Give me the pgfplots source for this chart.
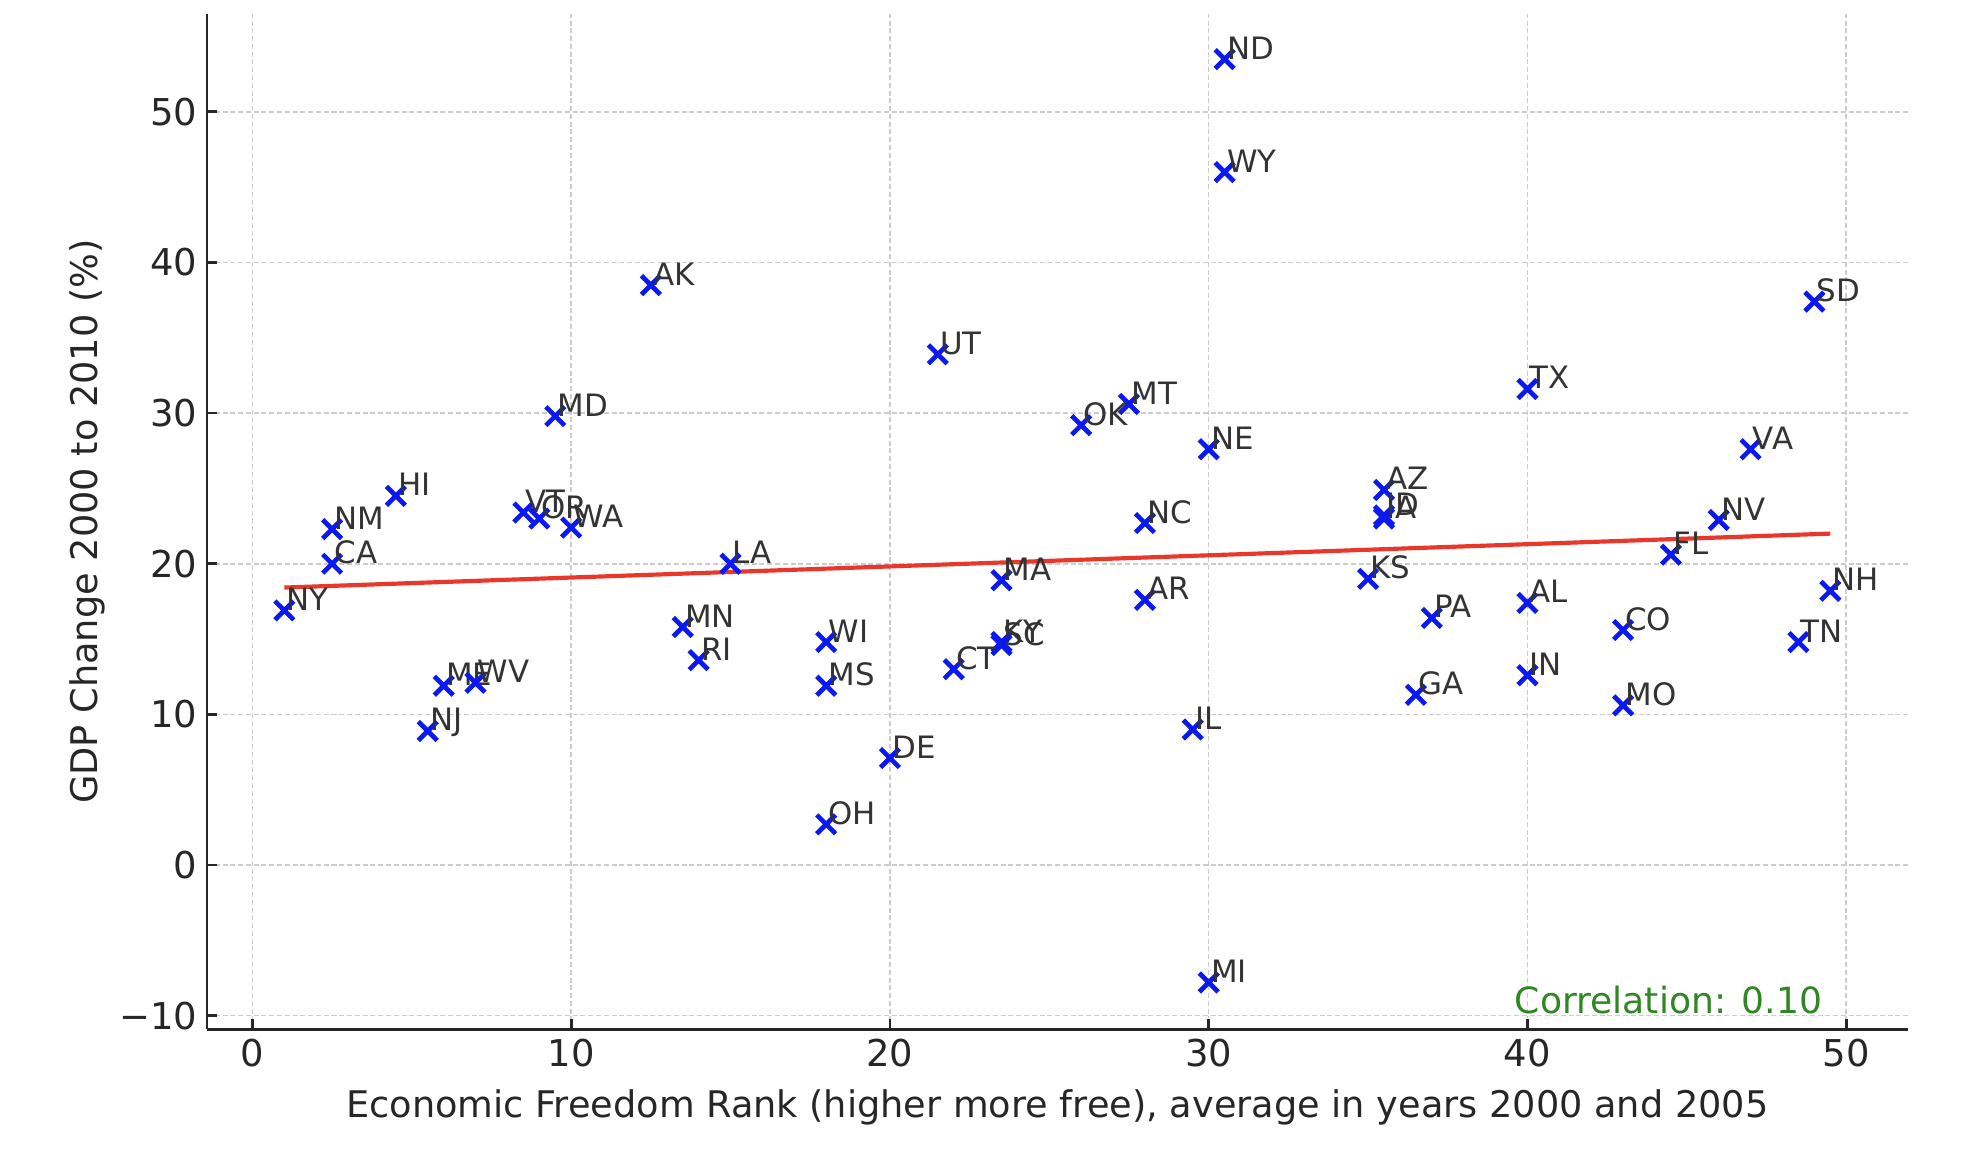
\documentclass[border=0pt]{standalone}
\usepackage{fontspec}
\setmainfont{DejaVu Sans}
\usepackage{pgfplots}
\usepackage{pgfplotstable}
\pgfplotsset{compat=1.18}
\usetikzlibrary{calc}
\definecolor{markblue}{RGB}{10,25,240}
\definecolor{trendred}{RGB}{233,56,43}
\definecolor{corrgreen}{RGB}{46,135,34}
\definecolor{labelgray}{RGB}{51,51,51}
\definecolor{axisdark}{RGB}{38,38,38}
\definecolor{gridgray}{RGB}{204,204,204}

\pgfplotstableread{
x y label
1 16.9 NY
2.5 20.0 CA
2.5 22.3 NM
5.5 8.9 NJ
6 11.9 ME
7 12.1 WV
13.5 15.8 MN
14 13.6 RI
15 20.0 LA
12.5 38.5 AK
9.5 29.8 MD
4.5 24.5 HI
8.5 23.4 VT
9 23.0 OR
10 22.4 WA
30.5 53.5 ND
30.5 46.0 WY
21.5 33.9 UT
27.5 30.6 MT
26 29.2 OK
30 27.6 NE
28 22.7 NC
23.5 18.9 MA
28 17.6 AR
18 14.8 WI
18 11.9 MS
23.5 14.8 KY
23.5 14.6 SC
22 13.0 CT
20 7.1 DE
18 2.7 OH
29.5 9.0 IL
30 -7.8 MI
35 19.0 KS
40 31.6 TX
49 37.4 SD
47 27.6 VA
46 22.9 NV
35.5 24.9 AZ
35.5 23.2 ID
35.5 23.0 IA
44.5 20.6 FL
49.5 18.2 NH
48.5 14.8 TN
40 17.4 AL
40 12.6 IN
43 15.6 CO
43 10.6 MO
37 16.4 PA
36.5 11.3 GA
}\statedata

\begin{document}
\begin{tikzpicture}
\begin{axis}[
  scale only axis,
  width=612pt, height=365.4pt,
  xmin=-1.425, xmax=51.925,
  ymin=-10.90, ymax=56.50,
  axis x line*=bottom, axis y line*=left,
  axis line style={axisdark, line width=1pt},
  tick align=inside,
  major tick length=3.6pt,
  tick style={axisdark, line width=1pt},
  xtick={0,10,20,30,40,50},
  ytick={-10,0,10,20,30,40,50},
  yticklabels={−10,0,10,20,30,40,50},
  /pgf/number format/assume math mode=true,
  tick label style={font=\fontsize{13.3}{16}\selectfont, text=axisdark},
  grid=major,
  major grid style={gridgray, line width=0.55pt, dash pattern=on 1.8pt off 1pt},
  xlabel={Economic Freedom Rank (higher more free), average in years 2000 and 2005},
  ylabel={GDP Change 2000 to 2010 (\%)},
  every axis x label/.style={at={(axis description cs:0.5,-0.0873)}, anchor=base, font=\fontsize{13.2}{16}\selectfont, text=axisdark},
  every axis y label/.style={at={(axis description cs:-0.0645,0.5)}, rotate=90, anchor=base, font=\fontsize{13.2}{16}\selectfont, text=axisdark},
  clip=false,
]
\coordinate (SW) at (rel axis cs:0,0);
\coordinate (NE) at (rel axis cs:1,1);
\addplot[only marks, mark=x, mark size=4.8pt, line width=1.7pt, color=markblue,
  nodes near coords, point meta=explicit symbolic,
  nodes near coords align={anchor=base west},
  every node near coord/.append style={font=\fontsize{11.1}{13}\selectfont, text=labelgray, inner sep=0pt, anchor=base west}]
  table[x=x, y=y, meta=label] {\statedata};
\addplot[trendred, line width=1.5pt] coordinates {(1,18.42) (49.5,22.0)};
\node[anchor=base east, inner sep=0pt, text=corrgreen, font=\fontsize{13.0}{16}\selectfont] at (rel axis cs:0.950,0.0155) {Correlation: 0.10};
\end{axis}
\pgfresetboundingbox
\path ($(SW)+(-74.5pt,-44.3pt)$) rectangle ($(NE)+(23.9pt,5.0pt)$);
\end{tikzpicture}
\end{document}
